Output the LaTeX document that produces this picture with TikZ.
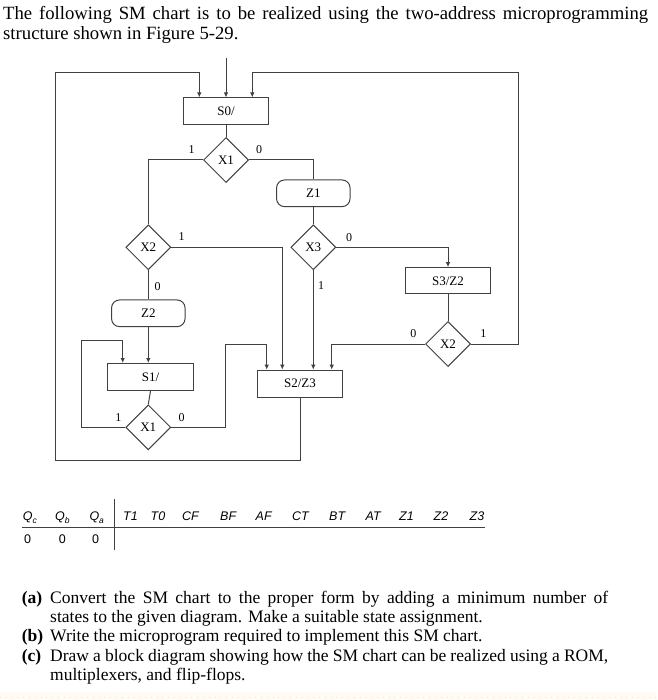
\documentclass[tikz,border=0pt]{standalone}
\usepackage{fontspec}
\setmainfont{Liberation Serif}
\newfontfamily\tabfont{Liberation Sans}
\usetikzlibrary{shapes.geometric,arrows.meta,calc}
\definecolor{lncol}{HTML}{404040}
\definecolor{tint}{rgb}{1,0.985,0.96}
\definecolor{dotcol}{rgb}{0.98,0.85,0.72}
\newcommand{\qsub}[1]{\raisebox{-3pt}{\fontsize{8.5}{9}\selectfont #1}}
\begin{document}
\begin{tikzpicture}[x=1pt,y=-1pt,
  ln/.style={draw=lncol,line width=1pt},
  arr/.style={ln,-{Latex[length=5pt,width=4.5pt]}},
  dfont/.style={font=\fontsize{13}{14}\selectfont},
  statebox/.style={ln,rectangle,minimum width=85.5pt,minimum height=27pt,inner sep=0pt,dfont},
  condbox/.style={ln,rectangle,rounded corners=8pt,minimum width=73.5pt,minimum height=26.7pt,inner sep=0pt,dfont},
  dec/.style={ln,diamond,aspect=1,minimum width=45pt,minimum height=45pt,inner sep=0pt,dfont},
  lbl/.style={font=\fontsize{12}{13}\selectfont,inner sep=0pt},
  bigtxt/.style={anchor=base west,inner sep=0pt,font=\fontsize{18.7}{20}\selectfont},
  parttxt/.style={anchor=base west,inner sep=0pt,font=\fontsize{17.5}{19}\selectfont},
  tabtxt/.style={anchor=base west,inner sep=0pt,font=\tabfont\itshape\fontsize{12.5}{13}\selectfont},
  tabnum/.style={anchor=base,inner sep=0pt,font=\tabfont\fontsize{12.5}{13}\selectfont}
]
\useasboundingbox (0,0) rectangle (657,700);
\fill[tint] (0,692) rectangle (657,700);
\draw[dotcol,line width=0.8pt,dash pattern=on 0.8pt off 5pt] (0,697) -- (657,697);

% heading
\node[bigtxt] (t1) at (3,20) {\makebox[645pt][s]{The following SM chart is to be realized using the two-address microprogramming}};
\node[bigtxt] (t2) at (3,39.5) {structure shown in Figure 5-29.};

% chart nodes
\coordinate (start) at (226,58);
\node[statebox] (S0) at (226,111.5) {S0/};
\node[dec] (X1) at (226,160) {X1};
\node[condbox] (Z1) at (313.3,193.3) {Z1};
\node[dec] (X2) at (148.3,247.3) {X2};
\node[dec] (X3) at (313.3,247.3) {X3};
\node[condbox] (Z2) at (148.3,313.3) {Z2};
\node[statebox] (S1) at (150.5,377) {S1/};
\node[dec] (X1b) at (148.3,427.3) {X1};
\node[statebox] (S2) at (300,383.7) {S2/Z3};
\node[statebox,minimum height=26.3pt] (S3) at (448,280.8) {S3/Z2};
\node[dec] (X2b) at (448,344) {X2};

\coordinate (rtop) at (518.3,72.3);
\coordinate (lt) at (55,72.3);
\coordinate (lb) at (55,460);
\coordinate (s1loop) at (81.7,340);
\coordinate (s2loop) at (225,344.3);

% connectors
\draw[arr] (start) -- (S0.north);
\draw[ln] (S0.south) -- (X1.north);
\draw[ln] (X1.west) -| (X2.north);
\draw[ln] (X1.east) -| (Z1.north);
\draw[ln] (Z1.south) -- (X3.north);
\draw[arr] (X2.east) -| ([xshift=-17.7pt]S2.north);
\draw[ln] (X2.south) -- (Z2.north);
\draw[arr] (Z2.south) -- (Z2.south |- S1.north);
\draw[arr] (X3.south) -- (X3.south |- S2.north);
\draw[arr] (X3.east) -| (S3.north);
\draw[ln] (S3.south) -- (X2b.north);
\draw[arr] (X2b.west) -| ([xshift=31.7pt]S2.north);
\draw[arr] (X2b.east) -| (rtop) -| ([xshift=26.3pt]S0.north);
\draw[ln] (S1.south) -- (X1b.north);
\draw[arr] (X1b.west) -| (s1loop) -| ([xshift=-27.8pt]S1.north);
\draw[arr] (X1b.east) -| (s2loop) -| ([xshift=-33.3pt]S2.north);
\draw[arr] (S2.south) |- (lb) -- (lt) -| ([xshift=-26.7pt]S0.north);

% branch labels
\node[lbl] (l1a) at (191.7,149.3) {1};
\node[lbl] (l1b) at (259,149.3) {0};
\node[lbl] (l2a) at (181.7,236.7) {1};
\node[lbl] (l2b) at (157.7,286.7) {0};
\node[lbl] (l3a) at (349,237.3) {0};
\node[lbl] (l3b) at (321,285.7) {1};
\node[lbl] (l4a) at (413.3,334) {0};
\node[lbl] (l4b) at (483.3,334) {1};
\node[lbl] (l5a) at (118.3,417.3) {1};
\node[lbl] (l5b) at (181.7,417.3) {0};

% table
\draw[lncol,line width=0.8pt] (21.7,527.3) -- (485,527.3);
\draw[lncol,line width=0.8pt] (114,499) -- (114,550);
\node[tabtxt] (qc) at (22.7,520) {Q\qsub{c}};
\node[tabtxt] (qb) at (55,520) {Q\qsub{b}};
\node[tabtxt] (qa) at (89.3,520) {Q\qsub{a}};
\node[tabtxt] (h1) at (123,520) {T1};
\node[tabtxt] (h2) at (150.5,520) {T0};
\node[tabtxt] (h3) at (182,520) {CF};
\node[tabtxt] (h4) at (220,520) {BF};
\node[tabtxt] (h5) at (255.5,520) {AF};
\node[tabtxt] (h6) at (292,520) {CT};
\node[tabtxt] (h7) at (329,520) {BT};
\node[tabtxt] (h8) at (365.5,520) {AT};
\node[tabtxt] (h9) at (399,520) {Z1};
\node[tabtxt] (h10) at (433.5,520) {Z2};
\node[tabtxt] (h11) at (469.5,520) {Z3};
\node[tabnum] (r1) at (27.7,543) {0};
\node[tabnum] (r2) at (62.3,543) {0};
\node[tabnum] (r3) at (95.7,543) {0};

% questions
\node[parttxt] (pa) at (21.7,603.3) {\textbf{(a)}};
\node[parttxt] (pa1) at (50,603.3) {\makebox[558pt][s]{Convert the SM chart to the proper form by adding a minimum number of}};
\node[parttxt] (pa2) at (50,622) {states to the given diagram. Make a suitable state assignment.};
\node[parttxt] (pb) at (21.7,641.5) {\textbf{(b)}};
\node[parttxt] (pb1) at (50,641.5) {Write the microprogram required to implement this SM chart.};
\node[parttxt] (pc) at (21.7,661) {\textbf{(c)}};
\node[parttxt] (pc1) at (50,661) {\makebox[558pt][s]{Draw a block diagram showing how the SM chart can be realized using a ROM,}};
\node[parttxt] (pc2) at (50,680) {multiplexers, and flip-flops.};
\end{tikzpicture}
\end{document}
